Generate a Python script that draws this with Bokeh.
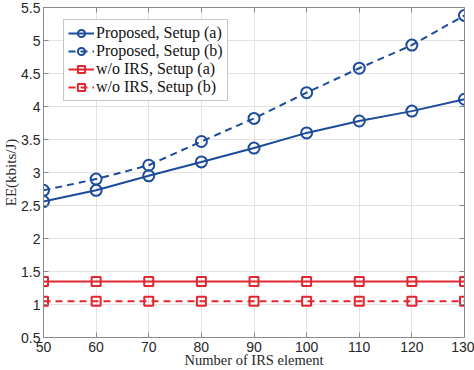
from bokeh.plotting import figure
from bokeh.models import LinearAxis, Legend, LegendItem, FixedTicker, Range1d, CustomJSTickFormatter
from bokeh.embed import file_html
from bokeh.resources import INLINE

irs_elements = [50, 60, 70, 80, 90, 100, 110, 120, 130]
proposed_a = [2.56, 2.73, 2.95, 3.16, 3.37, 3.60, 3.78, 3.93, 4.11]
proposed_b = [2.73, 2.90, 3.11, 3.47, 3.82, 4.21, 4.58, 4.93, 5.38]
wo_irs_a = [1.35, 1.35, 1.35, 1.35, 1.35, 1.35, 1.35, 1.35, 1.35]
wo_irs_b = [1.05, 1.05, 1.05, 1.05, 1.05, 1.05, 1.05, 1.05, 1.05]
x_ticks = [50, 60, 70, 80, 90, 100, 110, 120, 130]
y_ticks = [0.5, 1, 1.5, 2, 2.5, 3, 3.5, 4, 4.5, 5, 5.5]
y_tick_labels = ["0.5", "1", "1.5", "2", "2.5", "3", "3.5", "4", "4.5", "5", "5.5"]

BLUE = "#1d4b9b"
RED = "#e2262f"
AXC = "#262626"
FRAME = "#8a8a8a"

p = figure(width=474, height=370, output_backend="svg", toolbar_location=None,
           x_range=Range1d(50, 130), y_range=Range1d(0.5, 5.5),
           min_border_left=42, min_border_right=10, min_border_top=7, min_border_bottom=33)
p.outline_line_color = None
p.background_fill_color = "white"

for ax in [p.xaxis[0], p.yaxis[0]]:
    ax.major_label_text_font = "Liberation Sans"
    ax.major_label_text_font_size = "14px"
    ax.major_label_text_color = AXC
    ax.axis_line_color = FRAME
    ax.major_tick_line_color = FRAME
    ax.major_tick_in = 5
    ax.major_tick_out = 0
    ax.minor_tick_line_color = None
    ax.axis_label_text_font = "Liberation Serif"
    ax.axis_label_text_font_style = "normal"
    ax.axis_label_text_color = AXC
p.xaxis[0].ticker = FixedTicker(ticks=x_ticks)
p.yaxis[0].ticker = FixedTicker(ticks=y_ticks)
p.yaxis[0].major_label_overrides = dict(zip(y_ticks, y_tick_labels))
p.xaxis[0].axis_label = "Number of IRS element"
p.yaxis[0].axis_label = "EE(kbits/J)"
p.xaxis[0].axis_label_text_font_size = "14.5px"
p.yaxis[0].axis_label_text_font_size = "15px"
p.xaxis[0].axis_label_standoff = -3
p.yaxis[0].axis_label_standoff = -1
p.xaxis[0].major_label_standoff = 4
p.yaxis[0].major_label_standoff = 3

blank = CustomJSTickFormatter(code="return ''")
top = LinearAxis(ticker=FixedTicker(ticks=x_ticks), formatter=blank,
                 major_label_text_font_size="1px", major_label_standoff=0,
                 axis_line_color=FRAME, major_tick_line_color=FRAME,
                 major_tick_in=5, major_tick_out=0, minor_tick_line_color=None)
right = LinearAxis(ticker=FixedTicker(ticks=y_ticks), formatter=blank,
                   major_label_text_font_size="1px", major_label_standoff=0,
                   axis_line_color=FRAME, major_tick_line_color=FRAME,
                   major_tick_in=5, major_tick_out=0, minor_tick_line_color=None)
p.add_layout(top, "above")
p.add_layout(right, "right")

p.xgrid.ticker = FixedTicker(ticks=x_ticks)
p.ygrid.ticker = FixedTicker(ticks=y_ticks)
p.grid.grid_line_color = "#e3e3e3"
p.grid.grid_line_width = 1

l1 = p.line(irs_elements, proposed_a, line_color=BLUE, line_width=2)
m1 = p.scatter(irs_elements, proposed_a, marker="circle", size=11, fill_color=None,
               line_color=BLUE, line_width=2)
l2 = p.line(irs_elements, proposed_b, line_color=BLUE, line_width=2, line_dash="7 5")
m2 = p.scatter(irs_elements, proposed_b, marker="circle", size=11, fill_color=None,
               line_color=BLUE, line_width=2)
l3 = p.line(irs_elements, wo_irs_a, line_color=RED, line_width=2)
m3 = p.scatter(irs_elements, wo_irs_a, marker="square", size=9, fill_color=None,
               line_color=RED, line_width=2)
l4 = p.line(irs_elements, wo_irs_b, line_color=RED, line_width=2, line_dash="7 5")
m4 = p.scatter(irs_elements, wo_irs_b, marker="square", size=9, fill_color=None,
               line_color=RED, line_width=2)

legend = Legend(items=[
    LegendItem(label="Proposed, Setup (a)", renderers=[l1, m1]),
    LegendItem(label="Proposed, Setup (b)", renderers=[l2, m2]),
    LegendItem(label="w/o IRS, Setup (a)", renderers=[l3, m3]),
    LegendItem(label="w/o IRS, Setup (b)", renderers=[l4, m4]),
], location=(20, 236))
legend.label_text_font = "Liberation Serif"
legend.label_text_font_size = "16px"
legend.label_text_color = "#111111"
legend.label_height = 18
legend.glyph_height = 18
legend.glyph_width = 26
legend.label_standoff = 2
legend.spacing = 0
legend.padding = 4
legend.margin = 0
legend.border_line_color = "#8c8c8c"
legend.border_line_width = 1
legend.background_fill_alpha = 1
p.add_layout(legend, "center")

open("out.html", "w").write(file_html(p, INLINE))
